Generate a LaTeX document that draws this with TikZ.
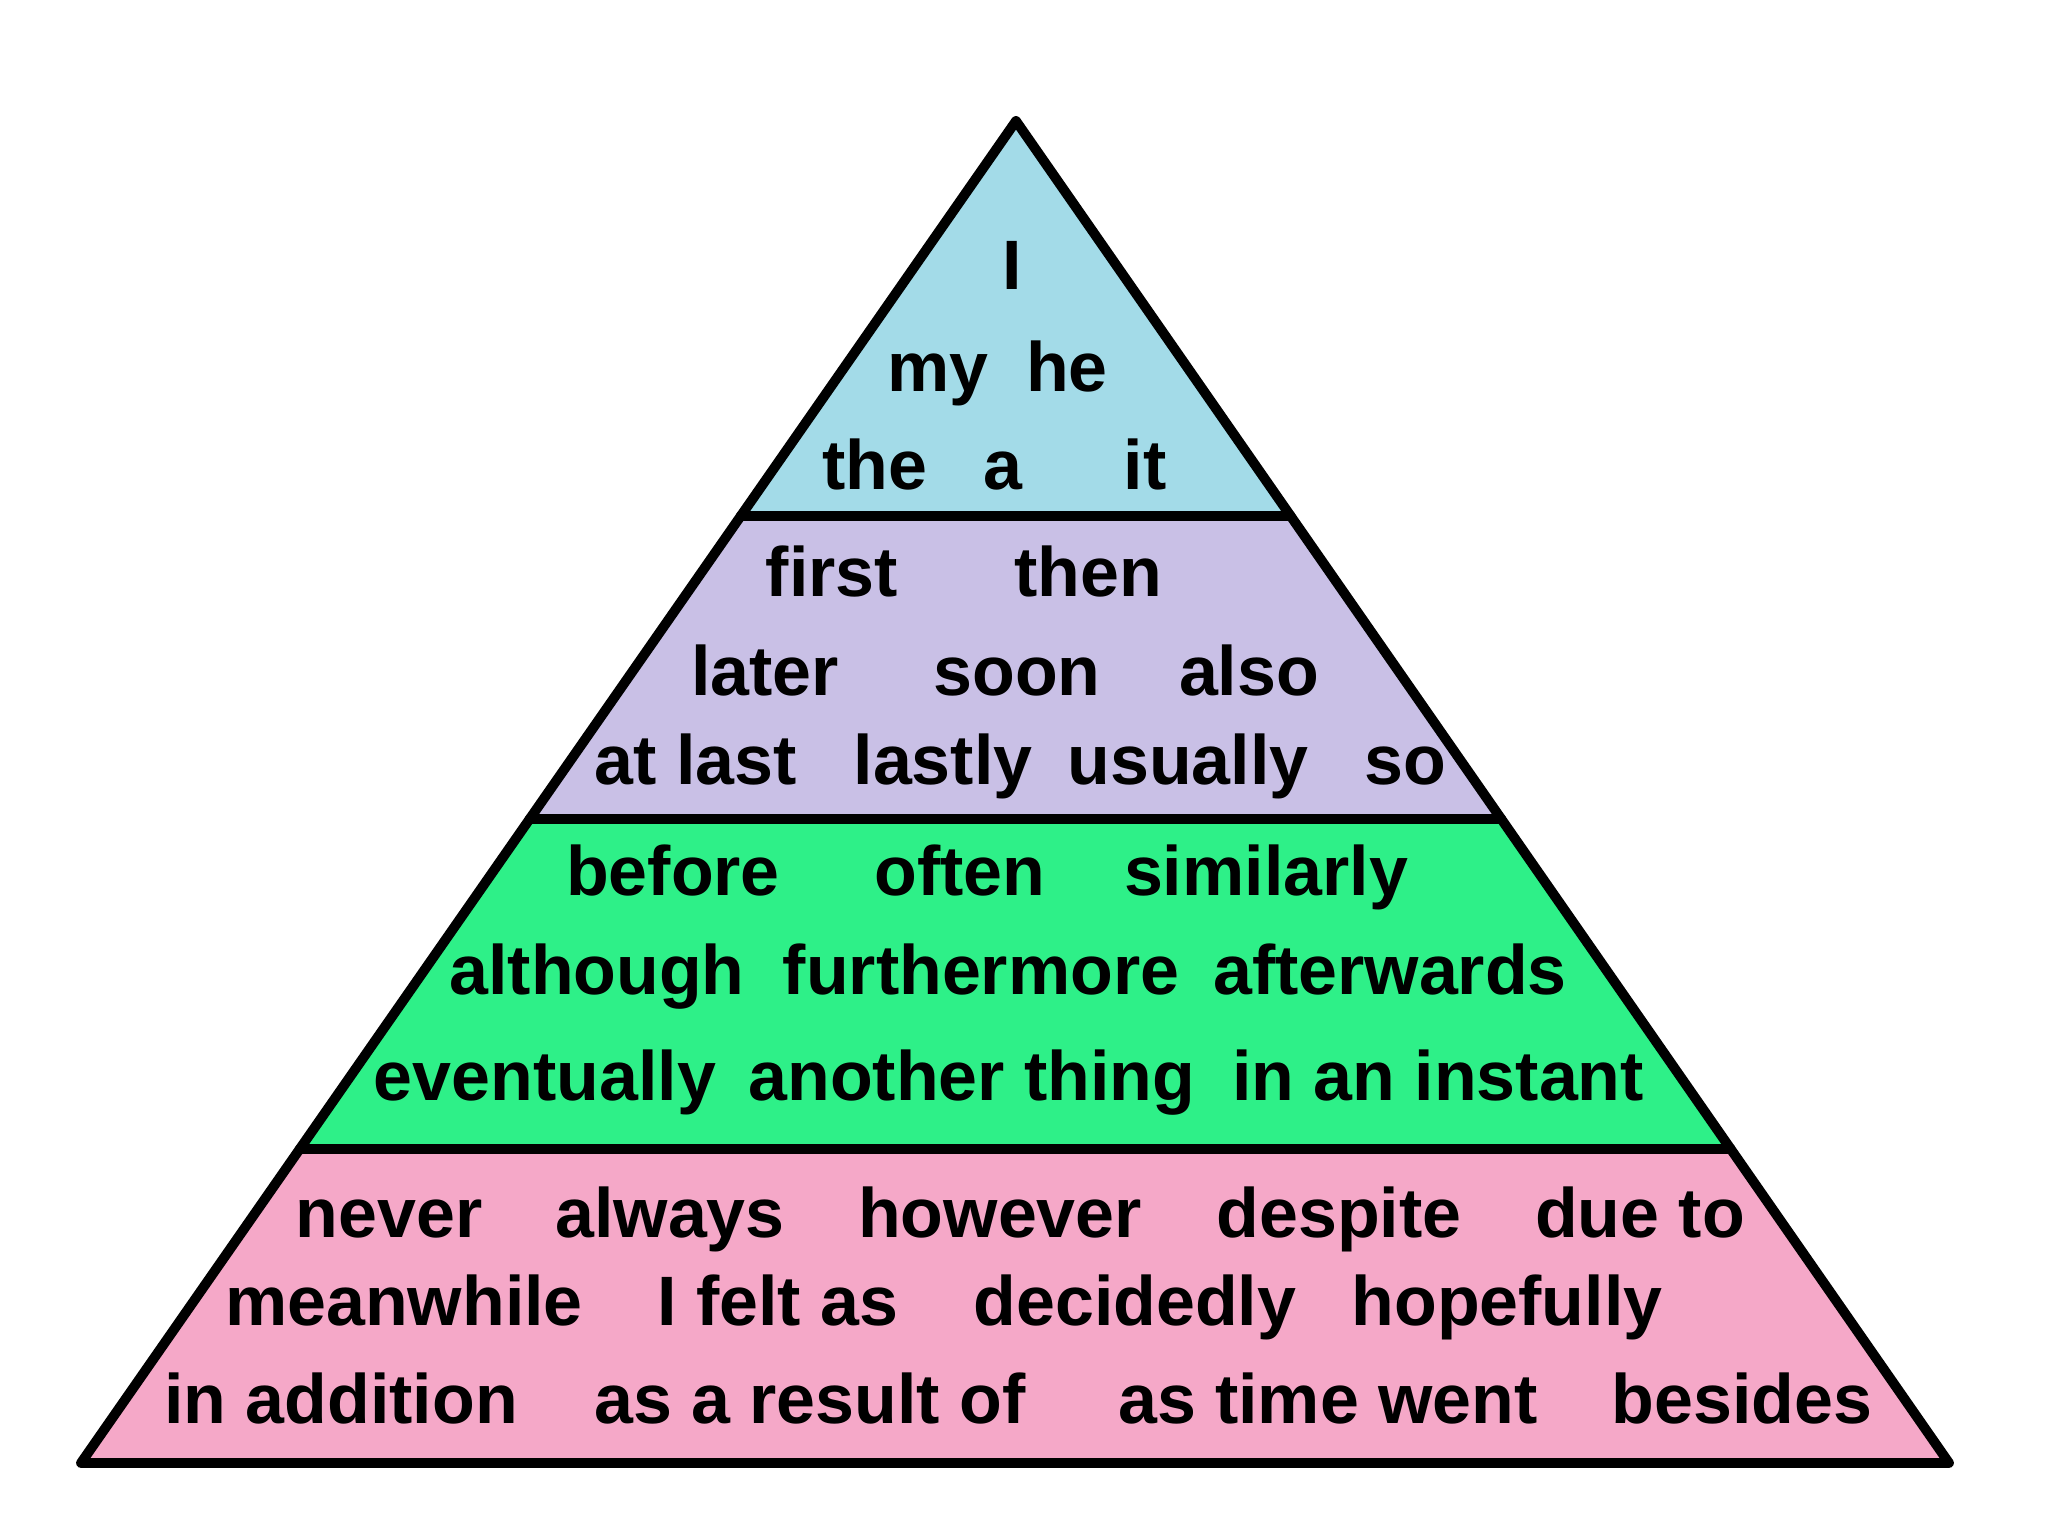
\documentclass[tikz,border=0pt]{standalone}
\usepackage{fontspec}
\setmainfont{Liberation Sans}
\usetikzlibrary{calc}
\definecolor{hellblau}{RGB}{163,219,232}
\definecolor{lila}{RGB}{201,192,230}
\definecolor{mintgruen}{RGB}{46,240,136}
\definecolor{rosa}{RGB}{245,168,200}

\begin{document}
\begin{tikzpicture}[
    wort/.style={anchor=base, inner sep=0pt, font=\fontsize{19.9}{24}\selectfont\bfseries},
    stufe/.style={draw=black, line width=2.8pt, line join=round}
]
    \useasboundingbox (0,0) rectangle (20.48,15.36);
    % Eckpunkte der Pyramide
    \coordinate (A) at (10.16,14.15);
    \coordinate (L) at (0.81,0.73);
    \coordinate (R) at (19.49,0.73);
    % Punkte der Trennlinien
    \foreach \t [count=\i] in {0.2943, 0.5201, 0.766} {
        \coordinate (l\i) at ($(A)!\t!(L)$);
        \coordinate (r\i) at ($(A)!\t!(R)$);
    }
    % Stufen zeichnen
    \filldraw[stufe, fill=hellblau] (A) -- (l1) -- (r1) -- cycle;
    \filldraw[stufe, fill=lila] (l1) -- (l2) -- (r2) -- (r1) -- cycle;
    \filldraw[stufe, fill=mintgruen] (l2) -- (l3) -- (r3) -- (r2) -- cycle;
    \filldraw[stufe, fill=rosa] (l3) -- (L) -- (R) -- (r3) -- cycle;
    % Woerter der obersten Stufe
    \foreach \x/\y/\w [count=\i] in {10.12/12.46/I,
        9.38/11.44/my, 10.67/11.44/he,
        8.75/10.46/the, 10.03/10.46/a, 11.45/10.46/it} {
        \node[wort] (a\i) at (\x,\y) {\w};
    }
    % Woerter der zweiten Stufe
    \foreach \x/\y/\w [count=\i] in {8.32/9.39/first, 10.88/9.39/then,
        7.65/8.40/later, 10.17/8.40/soon, 12.49/8.40/also,
        6.96/7.51/at last, 9.43/7.51/lastly, 11.88/7.51/usually, 14.05/7.51/so} {
        \node[wort] (b\i) at (\x,\y) {\w};
    }
    % Woerter der dritten Stufe
    \foreach \x/\y/\w [count=\i] in {6.73/6.40/before, 9.60/6.40/often, 12.66/6.40/similarly,
        5.97/5.41/although, 9.81/5.41/furthermore, 13.90/5.41/afterwards,
        5.45/4.35/eventually, 9.72/4.35/another thing, 14.38/4.35/in an instant} {
        \node[wort] (c\i) at (\x,\y) {\w};
    }
    % Woerter der untersten Stufe
    \foreach \x/\y/\w [count=\i] in {3.89/2.98/never, 6.70/2.98/always, 10.00/2.98/however,
        13.39/2.98/despite, 16.40/2.98/due to,
        4.04/2.10/meanwhile, 7.78/2.10/I felt as, 11.35/2.10/decidedly, 15.07/2.10/hopefully,
        3.41/1.12/in addition, 8.10/1.12/as a result of, 13.28/1.12/as time went, 17.42/1.12/besides} {
        \node[wort] (d\i) at (\x,\y) {\w};
    }
\end{tikzpicture}
\end{document}
